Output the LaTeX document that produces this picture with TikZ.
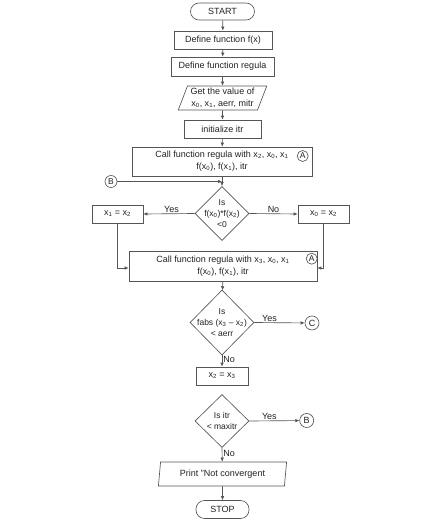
\documentclass[tikz,border=0pt]{standalone}
\usepackage{fontspec}
\setmainfont{Liberation Sans}
\usetikzlibrary{shapes.geometric,arrows.meta}
\definecolor{linegray}{HTML}{555555}
\definecolor{txt}{HTML}{222222}
\newcommand{\sub}[1]{\textsubscript{#1}}
\begin{document}
\begin{tikzpicture}[x=1pt,y=-1pt,
  font=\fontsize{9}{12}\selectfont, text=txt,
  line/.style={draw=linegray, line width=0.65pt},
  arr/.style={line, -{Latex[length=4pt,width=3.5pt]}},
  box/.style={draw=linegray, line width=0.65pt, rectangle, inner sep=0pt, align=center},
  term/.style={box, rounded corners=8.5pt},
  io/.style={draw=linegray, line width=0.65pt, trapezium, trapezium stretches=true, inner sep=0pt, align=center},
  dec/.style={draw=linegray, line width=0.65pt, diamond, inner sep=0pt},
  dtext/.style={align=center, inner sep=0pt, font=\fontsize{8.5}{11}\selectfont},
  conn/.style={draw=linegray, line width=0.65pt, circle, inner sep=0pt},
  lab/.style={inner sep=1pt}]
\useasboundingbox (0,0) rectangle (430,522);
\fill[white] (0,0) rectangle (430,522);

\node[term, minimum width=64pt, minimum height=17pt] (start) at (222.5,11.5) {START};
\node[box, minimum width=98pt, minimum height=18pt] (deff) at (223,40) {Define function f(x)};
\node[box, minimum width=103pt, minimum height=19pt] (defr) at (222.5,66.5) {Define function regula};
\node[io, trapezium left angle=67, trapezium right angle=113, minimum width=89pt, minimum height=24pt] (get) at (222.5,98) {Get the value of\\x\sub{0}, x\sub{1}, aerr, mitr};
\node[box, minimum width=77pt, minimum height=18pt] (init) at (222.5,129) {initialize itr};
\node[box, minimum width=180pt, minimum height=29pt] (call1) at (222,161.5) {Call function regula with x\sub{2}, x\sub{0}, x\sub{1}\\f(x\sub{0}), f(x\sub{1}), itr};
\node[conn, minimum size=11pt, font=\fontsize{8.5}{9}\selectfont] (a1) at (302.7,156) {A};
\node[conn, minimum size=12pt, font=\fontsize{8.5}{9}\selectfont] (bl) at (111,181.5) {B};
\node[dec, minimum width=54pt, minimum height=54pt] (d1) at (222,213.5) {};
\node[dtext] (d1t) at (d1.center) {Is\\f(x\sub{0})*f(x\sub{2})\\<0};
\node[box, minimum width=51pt, minimum height=18pt] (s1) at (117.5,214) {x\sub{1} = x\sub{2}};
\node[box, minimum width=51pt, minimum height=18pt] (s2) at (323.5,214) {x\sub{0} = x\sub{2}};
\node[box, minimum width=188pt, minimum height=30pt] (call2) at (223,266) {Call function regula with x\sub{3}, x\sub{0}, x\sub{1}\\f(x\sub{0}), f(x\sub{1}), itr};
\node[conn, minimum size=11pt, font=\fontsize{8.5}{9}\selectfont] (a2) at (311.7,258.7) {A};
\node[dec, minimum width=64pt, minimum height=65pt] (d2) at (222,322.5) {};
\node[dtext] (d2t) at (d2.center) {Is\\fabs (x\sub{3} – x\sub{2})\\< aerr};
\node[conn, minimum size=14pt] (c) at (312,323) {C};
\node[box, minimum width=52pt, minimum height=18pt] (x23) at (222,376) {x\sub{2} = x\sub{3}};
\node[dec, minimum width=54pt, minimum height=53pt] (d3) at (222,421) {};
\node[dtext] (d3t) at (d3.center) {Is itr\\< maxitr};
\node[conn, minimum size=14pt] (br) at (306.7,420.5) {B};
\node[io, trapezium left angle=80, trapezium right angle=100, minimum width=129pt, minimum height=24pt] (print) at (222.5,474) {Print "Not convergent};
\node[term, minimum width=53pt, minimum height=18pt] (stop) at (222.5,509.5) {STOP};

\draw[arr] (start) -- (deff);
\draw[arr] (deff) -- (defr);
\draw[arr] (defr) -- (get);
\draw[arr] (get) -- (init);
\draw[arr] (init) -- (call1);
\draw[arr] (call1) -- (d1);
\draw[arr] (bl) -- (bl -| d1.north);
\draw[arr] (d1.west) -- node[lab, above, pos=0.45] {Yes} (s1.east);
\draw[arr] (d1.east) -- node[lab, above, pos=0.5] {No} (s2.west);
\draw[arr] (s1.south) |- ([yshift=-2pt]call2.west);
\draw[arr] (s2.south) |- ([yshift=-2pt]call2.east);
\draw[arr] (call2) -- (d2);
\draw[arr] (d2.east) -- node[lab, above, pos=0.3] {Yes} (c);
\draw[arr] (d2.south) -- node[lab, right, pos=0.4] {No} (x23);
\draw[arr] (d3.east) -- node[lab, above, pos=0.4] {Yes} (br);
\draw[arr] (d3.south) -- node[lab, right, pos=0.4] {No} (print);
\draw[arr] (print) -- (stop);
\end{tikzpicture}
\end{document}
